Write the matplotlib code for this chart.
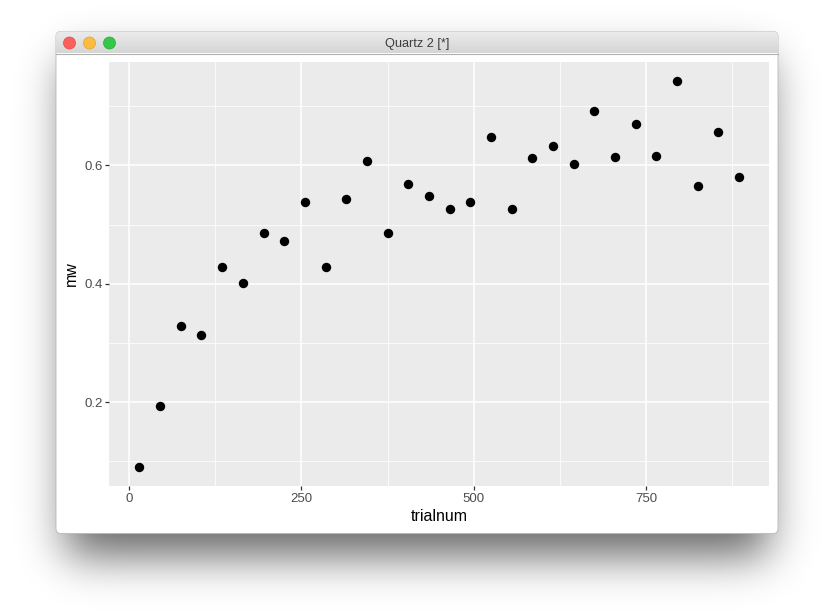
import math
import numpy as np
import matplotlib.pyplot as plt
from matplotlib.patches import FancyBboxPatch, Circle

# data
trialnum = [15, 45, 75, 105, 135, 165, 195, 225, 255, 285,
            315, 345, 375, 405, 435, 465, 495, 525, 555, 585,
            615, 645, 675, 705, 735, 765, 795, 825, 855, 885]
mw = [0.091, 0.194, 0.328, 0.314, 0.428, 0.402, 0.486, 0.472, 0.538, 0.428,
      0.544, 0.607, 0.486, 0.568, 0.549, 0.526, 0.538, 0.648, 0.527, 0.613,
      0.632, 0.602, 0.692, 0.614, 0.670, 0.615, 0.742, 0.565, 0.657, 0.580]
x_breaks = [0, 250, 500, 750]
x_minor = [125, 375, 625, 875]
y_breaks = [0.2, 0.4, 0.6]
y_minor = [0.1, 0.3, 0.5, 0.7]

W, H = 834, 614
fig = plt.figure(figsize=(W / 100, H / 100), dpi=100)
fig.patch.set_facecolor("white")

# background layer in pixel coords: shadow + window frame
bg = fig.add_axes([0, 0, 1, 1])
bg.axis("off")

erf = np.vectorize(math.erf)
def soft(u, a, b, s):
    return 0.5 * (erf((u - a) / (s * math.sqrt(2))) - erf((u - b) / (s * math.sqrt(2))))

xs = np.arange(W) + 0.5
ys = np.arange(H) + 0.5
shadow = np.outer(soft(ys, 60, 556, 22), soft(xs, 66, 768, 22)) * 0.6
img = np.zeros((H, W, 4))
img[..., 3] = shadow
bg.imshow(img, extent=(0, W, H, 0), aspect="auto", interpolation="bilinear", zorder=0)

win = FancyBboxPatch((56, 31.5), 722, 502, boxstyle="round,pad=0,rounding_size=5",
                     fc="white", ec="#b8b8b8", lw=0.6, zorder=1)
bg.add_patch(win)

# title bar gradient
grad = np.linspace(0, 1, 30).reshape(-1, 1)
top = np.array([0.925, 0.925, 0.925])
bot = np.array([0.835, 0.835, 0.840])
bar = top + (bot - top) * grad[..., None]
tb = bg.imshow(bar, extent=(56, 778, 53.5, 31.5), aspect="auto", zorder=2)
tb.set_clip_path(win)
bg.plot([56, 778], [53.5, 53.5], color="#b0b0b0", lw=0.8, zorder=3)

for cx, col, ec in [(69.5, "#fc605c", "#de4a46"), (89.5, "#fdbc40", "#dea236"),
                    (109.5, "#34c84a", "#27aa35")]:
    bg.add_patch(Circle((cx, 43), 6, fc=col, ec=ec, lw=0.5, zorder=4))
bg.text(417, 43.5, "Quartz 2 [*]", ha="center", va="center", fontsize=9.2,
        color="#3c3c3c", family=["Liberation Sans", "DejaVu Sans"], zorder=4)
bg.set_xlim(0, W)
bg.set_ylim(H, 0)

# ggplot style panel
ax = fig.add_axes([109.5 / W, (H - 486) / H, (769 - 109.5) / W, (486 - 62) / H])
ax.set_facecolor("#EBEBEB")
for s in ax.spines.values():
    s.set_visible(False)

xr = max(trialnum) - min(trialnum)
yr = max(mw) - min(mw)
ax.set_xlim(min(trialnum) - 0.05 * xr, max(trialnum) + 0.05 * xr)
ax.set_ylim(min(mw) - 0.05 * yr, max(mw) + 0.05 * yr)

ax.set_xticks(x_breaks)
ax.set_xticks(x_minor, minor=True)
ax.set_yticks(y_breaks)
ax.set_yticks(y_minor, minor=True)
ax.set_xticklabels([str(v) for v in x_breaks])
ax.set_yticklabels([f"{v:.1f}" for v in y_breaks])
ax.grid(which="major", color="white", lw=1.1)
ax.grid(which="minor", color="white", lw=0.55)
ax.set_axisbelow(True)
ax.tick_params(which="major", length=3, width=0.9, color="#333333",
               labelcolor="#4D4D4D", labelsize=9.5, pad=2,
               labelfontfamily="Liberation Sans")
ax.tick_params(which="minor", length=0)

ax.scatter(trialnum, mw, s=46, color="black", lw=0, zorder=3)

ax.set_xlabel("trialnum", fontsize=11.5, family="Liberation Sans", labelpad=3)
ax.set_ylabel("mw", fontsize=11.5, family="Liberation Sans", labelpad=4)

fig.savefig("out.png", dpi=100)
